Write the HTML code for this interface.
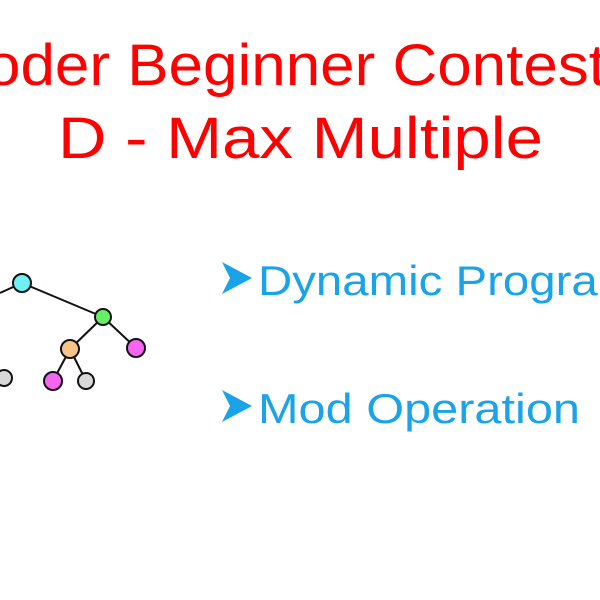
<!DOCTYPE html>
<html><head><style>body{margin:0;background:#fff;width:600px;height:600px;overflow:hidden}</style></head>
<body>
<svg width="600" height="600" xmlns="http://www.w3.org/2000/svg" style="display:block">
<rect width="600" height="600" fill="#fff"/>
<g font-family="'Liberation Sans', sans-serif" fill="#ff0000" font-size="58">
<text x="-14" y="85" textLength="620" lengthAdjust="spacingAndGlyphs">oder Beginner Contest</text>
<text x="58" y="158" textLength="485" lengthAdjust="spacingAndGlyphs">D - Max Multiple</text>
</g>
<g fill="#1aa3e8">
<polygon points="222,262 252,278 222,294 230,278"/>
<polygon points="222,390 252,406 222,422 230,406"/>
</g>
<g font-family="'Liberation Sans', sans-serif" fill="#1aa3e8" font-size="42">
<text x="258" y="295" textLength="482" lengthAdjust="spacingAndGlyphs">Dynamic Programming</text>
<text x="258" y="423" textLength="322" lengthAdjust="spacingAndGlyphs">Mod Operation</text>
</g>
<g stroke="#111" stroke-width="2" fill="none">
<line x1="0" y1="293" x2="22" y2="283"/>
<line x1="22" y1="283" x2="103" y2="317"/>
<line x1="103" y1="317" x2="70" y2="349"/>
<line x1="103" y1="317" x2="136" y2="348"/>
<line x1="70" y1="349" x2="53" y2="381"/>
<line x1="70" y1="349" x2="86" y2="381"/>
</g>
<g stroke="#111" stroke-width="2">
<circle cx="22" cy="283" r="9" fill="#6ef0f5"/>
<circle cx="103" cy="317" r="8" fill="#66ee66"/>
<circle cx="70" cy="349" r="9" fill="#f9c48a"/>
<circle cx="136" cy="348" r="9" fill="#f566f0"/>
<circle cx="53" cy="381" r="9" fill="#f566f0"/>
<circle cx="86" cy="381" r="8" fill="#d8d8d8"/>
<circle cx="4" cy="378" r="8" fill="#d8d8d8"/>
</g>
</svg>
</body></html>
